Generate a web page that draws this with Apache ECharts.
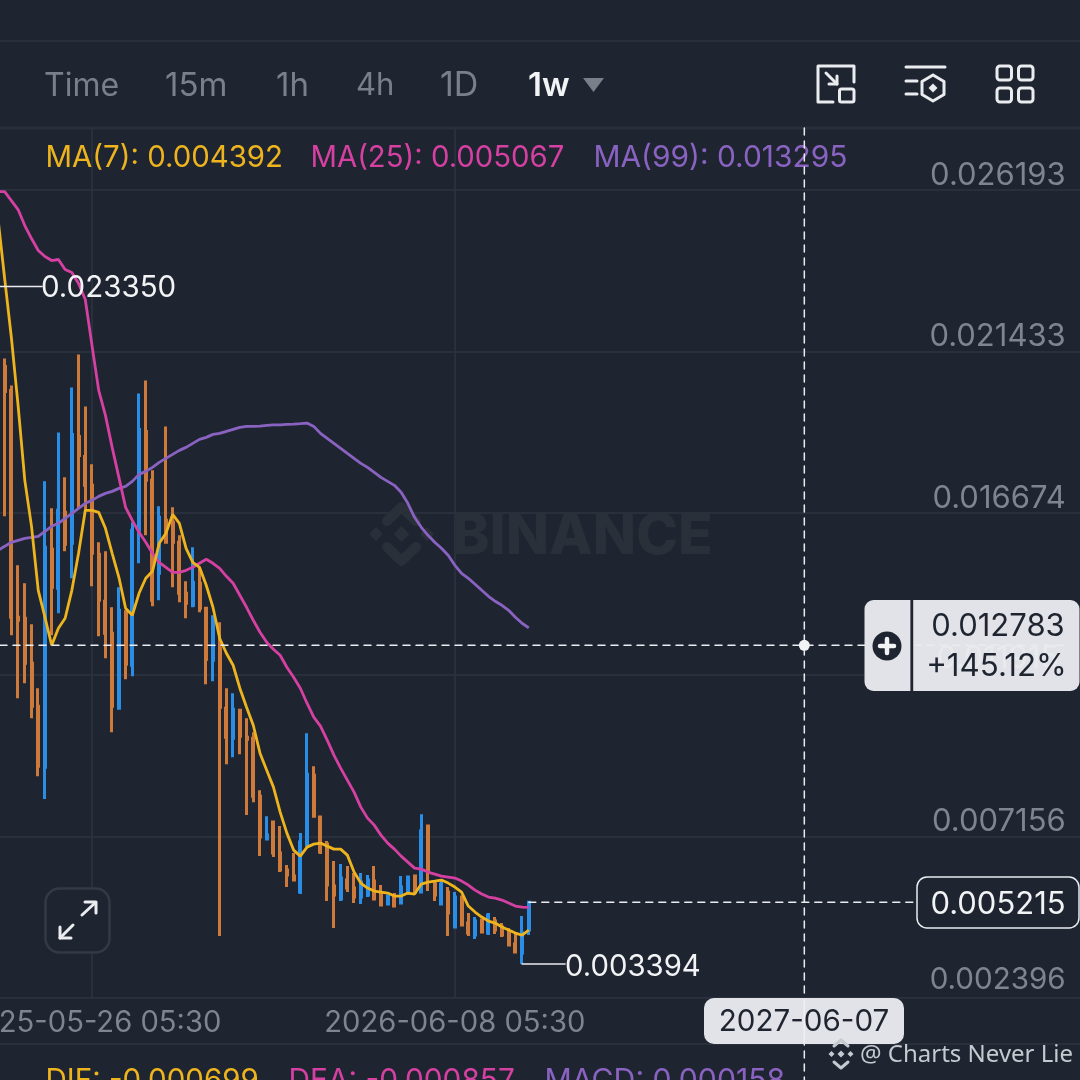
<!DOCTYPE html>
<html><head><meta charset="utf-8">
<style>html,body{margin:0;padding:0;background:#1F2530;overflow:hidden}#c{width:1080px;height:1080px}</style>
<script src="https://cdn.jsdelivr.net/npm/echarts@6/dist/echarts.min.js"></script>
</head><body><div id="c"></div>
<script>
// All prices are in millionths (0.012783 -> 12783)
const opens=[20996,20289,13609,13579,12255,10990,9194,15610,14462,16699,15787,18936,18347,17494,15463,14080,13138,10931,13756,12196,16169,19083,17641,14904,16464,16405,15816,14315,13962,14609,13874,12343,12697,10931,10048,10872,10077,10048,8341,7075,7576,6663,6163,5986,5516,6899,8959,7723,6928,5692,5310,5869,5633,5368,5427,5839,5486,5162,5368,5192,5486,5986,5516,7458,5751,5162,5516,4486,5368,4603,4250,4692,4309,4662,4486,4309,3985,3720,4397];
const closes=[20260,13609,13521,12255,10990,9224,15669,14492,16758,15757,18995,18376,17494,15492,14109,13138,10990,13815,12226,16169,19142,17641,14109,16552,15816,15816,14315,14021,14639,13874,12373,13609,10960,10077,10901,10107,10018,8341,7134,7193,6663,6163,6016,5869,6987,8988,7752,6693,5722,5427,5928,5633,5368,5810,5869,5310,5133,5398,5104,5663,5957,5516,7311,6104,5427,5751,4898,5368,4544,4309,4662,4338,4839,4397,4250,3956,3750,4309,5215];
const lows=[16581,13079,11225,11666,10636,8929,8253,13079,13727,15551,14757,16817,16758,14521,13050,12402,10224,10931,11784,11872,15198,16022,13933,14109,15816,14492,14050,13579,13903,13756,11637,11725,4221,9283,9489,9577,7782,8164,6575,7046,6546,6104,5663,5869,5457,6899,7752,6634,5251,4456,5251,5516,5192,5162,5368,5280,5104,5162,5074,5192,5486,5486,5486,5545,5251,5133,4221,4456,4515,4221,4132,4309,4250,4280,4191,3926,3720,3394,4250];
const highs=[21231,20437,15139,14609,13403,11519,17611,16817,19053,17729,20378,21349,19819,18112,15816,15551,13903,14492,13815,16405,20201,20584,17935,16876,19230,16846,16022,14668,15669,15080,13903,13668,13462,11519,11372,10872,10636,10224,8517,7752,7576,7458,6310,6663,7252,10195,9224,7752,7017,6428,6340,6281,6075,6075,6016,6281,5722,5427,5486,5986,5986,6016,7811,7487,5869,5869,5663,5516,5368,4898,4780,4721,4898,4780,4603,4456,4280,4809,5251];
// moving averages start one week before the first visible candle
const ma7=[25381,23586,21849,19848,17641,16287,14403,13609,12785,13285,13579,14403,15492,16758,16758,16699,16228,15492,14786,13874,13668,14315,14757,14963,15787,16081,16640,16375,15640,15227,15080,14551,13903,12991,12549,12196,11519,10960,10430,9606,9106,8606,7870,7252,6752,6575,6840,6928,6958,6869,6781,6781,6604,6104,5780,5633,5545,5516,5486,5398,5398,5486,5457,5751,5810,5839,5869,5780,5663,5516,5104,4927,4780,4662,4603,4486,4397,4309,4250,4392];
const ma25=[26146,26146,25881,25616,25145,24763,24410,24233,24115,24145,23850,23762,23438,22968,21614,20289,19554,18612,17729,16846,16464,16110,15816,15492,15227,15080,14933,14933,14992,15080,15198,15316,15198,15051,14815,14609,14256,13903,13521,13167,12873,12667,12490,12137,11843,11519,11078,10666,10401,9989,9547,9165,8812,8459,8017,7693,7487,7193,6958,6781,6575,6398,6222,6192,6104,6045,5986,5957,5928,5839,5722,5574,5457,5368,5339,5280,5192,5104,5074,5067];
const ma99=[15581,15698,15816,15875,15934,15963,15993,16140,16287,16375,16522,16670,16817,16964,17052,17170,17258,17317,17405,17464,17611,17817,17906,18023,18170,18288,18406,18524,18612,18730,18847,18906,18995,19024,19083,19142,19201,19230,19230,19239,19259,19274,19274,19289,19298,19310,19328,19230,19024,18877,18730,18583,18435,18288,18141,18023,17876,17729,17611,17494,17288,16964,16552,16258,16022,15816,15640,15433,15139,14904,14757,14580,14403,14227,14080,13962,13815,13609,13432,13295];
const priceTicks=[2396,7156,11915,16674,21433,26193];
const dateTicks=['2025-05-26 05:30','2026-06-08 05:30'];
const axisMax=28018;
const highMark=23350, lowMark=3394, lastPrice=5215, crossPrice=12783;
const crossDate='2027-06-07';

const LEAD=7, WEEKS=168;
const categories=[];
for(let i=0;i<WEEKS;i++){const d=new Date(Date.UTC(2025,0,6)+i*7*864e5);categories.push(d.toISOString().slice(0,10)+' 05:30');}
const pad=n=>new Array(n).fill(null);
const blank=[NaN,NaN,NaN,NaN];
const candles=new Array(LEAD).fill(blank).concat(opens.map((o,i)=>[o,closes[i],lows[i],highs[i]]));
const BG='#1F2530', GRID='#2E3440', FONT='Inter', LIGHT='#E1E3E8', WHITE='#EAECEF', GRAY='#7F858F';
const UP='#2A8DE6', DOWN='#CE7A3B';

const chart=echarts.init(document.getElementById('c'),null,{renderer:'canvas'});
chart.setOption({
  animation:false,backgroundColor:BG,
  grid:{left:-45.76,top:128,width:1128.96,height:870,containLabel:false,outerBoundsMode:'none'},
  xAxis:{type:'category',data:categories,boundaryGap:true,
    axisLine:{show:false},axisTick:{show:false},
    axisLabel:{interval:(i,v)=>dateTicks.includes(v),formatter:v=>v,color:GRAY,fontFamily:FONT,fontSize:29.2,margin:11,hideOverlap:false},
    splitLine:{show:true,alignWithLabel:true,interval:(i,v)=>dateTicks.includes(v),lineStyle:{color:GRID,width:1.5}}},
  yAxis:{type:'value',min:priceTicks[0],max:axisMax,position:'right',
    axisLine:{show:false},axisTick:{show:false,customValues:priceTicks},
    axisLabel:{customValues:priceTicks,inside:true,margin:17.5,align:'right',verticalAlign:'middle',color:GRAY,fontFamily:FONT,fontSize:31,
      formatter:v=>{const s=(v/1e6).toFixed(6);return (v===priceTicks[0]?'{low|':'{std|')+s+'}';},
      rich:{std:{color:GRAY,fontFamily:FONT,fontSize:31,padding:[0,0,29,0]},low:{color:GRAY,fontFamily:FONT,fontSize:29.6,padding:[0,0,36,0]}}},
    splitLine:{show:true,lineStyle:{color:GRID,width:1.5}}},
  series:[
    {type:'candlestick',data:candles,barWidth:1.5,clip:true,itemStyle:{color:UP,color0:DOWN,borderColor:UP,borderColor0:DOWN,borderWidth:3}},
    {type:'line',name:'MA99',data:pad(LEAD-1).concat(ma99),showSymbol:false,lineStyle:{color:'#8A63C2',width:2.8}},
    {type:'line',name:'MA25',data:pad(LEAD-1).concat(ma25),showSymbol:false,lineStyle:{color:'#D540A2',width:2.8}},
    {type:'line',name:'MA7',data:pad(LEAD-1).concat(ma7),showSymbol:false,lineStyle:{color:'#EDB41E',width:2.8}}
  ]
});

const crossIdx=categories.indexOf(crossDate+' 05:30');
const lastIdx=LEAD+opens.length-1, lowIdx=LEAD+lows.indexOf(lowMark);
const px=(i,v)=>chart.convertToPixel({gridIndex:0},[i,v]);
const hmY=px(0,highMark)[1], lmP=px(lowIdx,lowMark), lpP=px(lastIdx,lastPrice), cr=px(crossIdx,crossPrice);

const TY=2; // Inter sits a little high when centred
function txt(text,x,y,fill,size,align,weight,z){return {type:'text',z:z===undefined?20:z,style:{text,x,y:y+TY,fill,fontFamily:FONT,fontSize:size,fontWeight:weight||400,textAlign:align||'left',textVerticalAlign:'middle'}};}
function ln(x1,y1,x2,y2,stroke,w,dash,z){return {type:'line',z:z===undefined?20:z,shape:{x1,y1,x2,y2},style:{stroke,lineWidth:w,lineDash:dash||null,lineCap:'round'}};}
function pl(pts,stroke,w,z){return {type:'polyline',z:z===undefined?20:z,shape:{points:pts},style:{fill:null,stroke,lineWidth:w,lineCap:'round',lineJoin:'round'}};}
function rr(x,y,w,h,r,fill,stroke,sw,z){return {type:'rect',z:z===undefined?20:z,shape:{x,y,width:w,height:h,r},style:{fill:fill||'transparent',stroke:stroke||null,lineWidth:sw||0}};}
function poly(pts,fill,z){return {type:'polygon',z:z===undefined?20:z,shape:{points:pts},style:{fill}};}
const dm=(cx,cy,r)=>[[cx,cy-r],[cx+r,cy],[cx,cy+r],[cx-r,cy]];

const el=[];
// watermark
const WM='#2A3039';
el.push(txt('BINANCE',452,535,WM,56.6,'left',800,0));
[[401.5,534,8],[376,534,7],[427,534,7]].forEach(a=>el.push(poly(dm(a[0],a[1],a[2]),WM,0)));
el.push(pl([[387,521],[401.5,507],[416,521]],WM,10,0));
el.push(pl([[387,547],[401.5,561],[416,547]],WM,10,0));
// structure lines
el.push(ln(0,41,1080,41,GRID,1.5,null,1));
el.push(ln(0,128,1080,128,'#2A303B',3,null,1));
el.push(ln(0,1044,1080,1044,GRID,1.5,null,1));
// timeframe row
[['Time',44,32],['15m',165,33],['1h',276,33],['4h',356,31],['1D',440,34]].forEach(a=>el.push(txt(a[0],a[1],84,'#7A808A',a[2])));
el.push(txt('1w',528,84,'#F2F3F5',33,'left',600));
el.push(poly([[583,78],[604,78],[593.5,92]],'#7A808A'));
// toolbar icons
el.push(pl([[833,102],[818,102],[818,66],[854,66],[854,82]],WHITE,3));
el.push(rr(839.5,89,14.5,13,2,null,WHITE,3));
el.push(pl([[826,73],[837,84]],WHITE,3));
el.push(pl([[837,76],[837,84],[829,84]],WHITE,3));
el.push(pl([[906,67],[945,67]],WHITE,3));
el.push(pl([[906,81],[917,81]],WHITE,3));
el.push(pl([[906,94],[917,94]],WHITE,3));
el.push(pl([[933,75],[944,81.5],[944,94.5],[933,101],[922,94.5],[922,81.5],[933,75]],WHITE,3));
el.push(poly(dm(933,88,4.5),WHITE));
[[997,66],[1018.5,66],[997,88],[1018.5,88]].forEach(a=>el.push(rr(a[0],a[1],14.5,14,3,null,WHITE,3)));
// MA legend
el.push(txt('MA(7): 0.004392',45.5,156,'#EDB41E',29.4));
el.push(txt('MA(25): 0.005067',310.5,156,'#D540A2',29.3));
el.push(txt('MA(99): 0.013295',593.5,156,'#8A63C2',29.9));
// MACD legend clipped by the bottom edge
el.push(txt('DIF: -0.000699',45.5,1079,'#EDB41E',29.5));
el.push(txt('DEA: -0.000857',288.5,1079,'#D540A2',29.8));
el.push(txt('MACD: 0.000158',544.5,1079,'#8A63C2',30.2));
// high/low markers
el.push(ln(0,hmY,42,hmY,WHITE,1.5));
el.push(txt((highMark/1e6).toFixed(6),41,hmY,'#F2F3F5',29.5));
el.push(ln(lmP[0],lmP[1],lmP[0]+43,lmP[1],WHITE,1.5));
el.push(txt((lowMark/1e6).toFixed(6),lmP[0]+43,lmP[1]+1,'#F2F3F5',29.3));
// last price
el.push(ln(lpP[0],lpP[1],917,lpP[1],WHITE,1.5,[7,6]));
el.push(rr(917,877,162,51,10,BG,WHITE,1.5,22));
el.push(txt((lastPrice/1e6).toFixed(6),998,903,'#F2F3F5',31,'center',400,23));
// crosshair
el.push(ln(cr[0],128,cr[0],1080,WHITE,1.5,[7,6]));
el.push(ln(0,cr[1],866,cr[1],WHITE,1.5,[7,6]));
el.push({type:'circle',z:21,shape:{cx:cr[0],cy:cr[1],r:5.5},style:{fill:'#F2F3F5'}});
// price pill, with the faint ghost of what lies behind it
el.push(rr(864.5,600,215,91,9,LIGHT,null,0,22));
el.push(ln(914,cr[1],1066,cr[1],'#E9EBEE',1.5,[7,6],23));
el.push(txt((priceTicks[2]/1e6).toFixed(6),998,657,'#E8EAED',31,'center',400,23));
el.push(ln(911.8,600,911.8,691,BG,2.8,null,23));
el.push({type:'circle',z:23,shape:{cx:887,cy:646,r:14.5},style:{fill:BG}});
el.push(ln(887,639,887,653,'#F2F3F5',4.5,null,24));
el.push(ln(880,646,894,646,'#F2F3F5',4.5,null,24));
el.push(txt((crossPrice/1e6).toFixed(6),998,625,BG,31,'center',400,24));
el.push(txt('+145.12%',996.5,665,BG,31.3,'center',400,24));
// date pill
el.push(rr(704,998,200,46,10,LIGHT,null,0,22));
el.push(ln(cr[0],1000,cr[0],1043,'#EEF0F2',1.5,null,23));
el.push(txt(crossDate,804,1020,BG,29.6,'center',400,24));
// expand button
el.push(rr(45.5,888.5,64,64,14,BG,'#333A45',2.5,21));
el.push(pl([[82,915],[95,903]],WHITE,3,22));
el.push(pl([[85,902],[96,902],[96,913]],WHITE,3,22));
el.push(pl([[73,925],[60,938]],WHITE,3,22));
el.push(pl([[60,927],[60,938],[71,938]],WHITE,3,22));
// author tag
const TAG='#C5C9D0';
[[841,1054,3.5],[831.5,1054,3],[850.5,1054,3]].forEach(a=>el.push(poly(dm(a[0],a[1],a[2]),TAG,24)));
el.push(pl([[834,1046],[841,1040],[848,1046]],TAG,3,24));
el.push(pl([[834,1062],[841,1068],[848,1062]],TAG,3,24));
el.push({type:'text',z:24,style:{text:'@ Charts Never Lie',x:860,y:1055,fill:TAG,fontFamily:'Noto Sans',fontSize:24,textVerticalAlign:'middle'}});
chart.setOption({graphic:{elements:el}});
</script></body></html>
